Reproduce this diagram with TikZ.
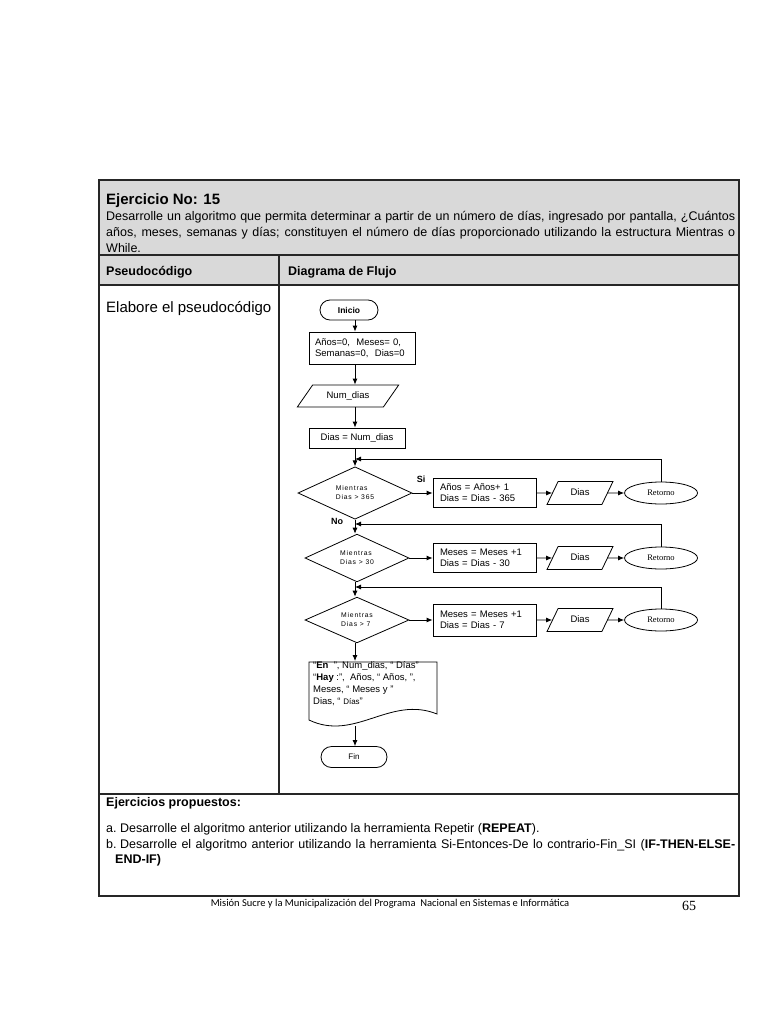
\documentclass[tikz,border=0pt]{standalone}
\usepackage{fontspec}
\setmainfont{Liberation Sans}
\newfontfamily\timesf{Liberation Serif}
\newfontfamily\calibf{Carlito}
\usetikzlibrary{shapes.geometric,shapes.misc,arrows.meta}
\begin{document}
\begin{tikzpicture}[x=1pt,y=-1pt,
 tbl/.style={draw=black!85,line width=1.1pt},
 fl/.style={draw=black,line width=0.8pt},
 arr/.style={fl,-{Latex[length=6pt,width=5pt]}},
 term/.style={fl,rounded rectangle,minimum height=20pt,inner sep=1pt},
 procbox/.style={fl,rectangle,align=left,inner xsep=6pt,inner ysep=2pt,font=\fontsize{9.5}{11}\selectfont},
 iobox/.style={fl,trapezium,trapezium stretches=true,inner sep=1pt,font=\fontsize{9.5}{11}\selectfont},
 dec/.style={fl,diamond,inner sep=0pt,align=left,font={\fontsize{6.8}{9}\selectfont\addfontfeatures{LetterSpace=12}}},
 ret/.style={fl,ellipse,minimum width=73pt,minimum height=22pt,inner sep=0pt,font=\timesf\fontsize{8.5}{10}\selectfont},
 lbl/.style={font=\bfseries\fontsize{9}{10}\selectfont,inner sep=0pt},
 txt/.style={inner sep=0pt,anchor=base west},
 body/.style={txt,font=\fontsize{12.5}{15}\selectfont},
 bodyb/.style={txt,font=\bfseries\fontsize{12.5}{15}\selectfont}
]
\useasboundingbox[fill=white] (0,0) rectangle (768,1024);

% table
\fill[black!15] (99,180) rectangle (739,285);
\draw[tbl] (99,180) rectangle (739,896);
\draw[tbl] (99,255) -- (739,255);
\draw[tbl] (99,285) -- (739,285);
\draw[tbl] (279,255) -- (279,794);
\draw[tbl] (99,794) -- (739,794);

% header texts
\node[txt,font=\bfseries\fontsize{15}{17}\selectfont] (title) at (106,205) {Ejercicio No: 15};
\node[body] (desc1) at (106,220.5) {\makebox[629pt][s]{Desarrolle un algoritmo que permita determinar a partir de un número de días, ingresado por pantalla, ¿Cuántos}};
\node[body] (desc2) at (106,236.5) {\makebox[629pt][s]{años, meses, semanas y días; constituyen el número de días proporcionado utilizando la estructura Mientras o}};
\node[body] (desc3) at (106,252) {While.};
\node[bodyb] (hpseudo) at (106,275.5) {Pseudocódigo};
\node[bodyb] (hflujo) at (288,275.5) {Diagrama de Flujo};
\node[txt,font=\fontsize{15}{17}\selectfont] (elab) at (106,312) {Elabore el pseudocódigo};

% flowchart
\coordinate (sp) at (355,300);
\node[term,minimum width=60pt,font=\bfseries\fontsize{8.5}{10}\selectfont] (ini) at (349,310) {Inicio};
\node[procbox,text width=94pt,minimum height=32pt] (init) at (362,348) {Años=0,\ \ Meses=~0,\\Semanas=0,\ \ Dias=0};
\node[iobox,trapezium left angle=48,trapezium right angle=132,minimum width=102pt,minimum height=22pt] (in1) at (348,396) {Num\_dias};
\node[procbox,minimum width=96pt,minimum height=20pt] (asg) at (357,438) {Dias = Num\_dias};

\node[dec,minimum width=114pt,minimum height=44pt] (d1) at (355,493) {Mientras\\Dias > 365};
\node[dec,minimum width=104pt,minimum height=42pt] (d2) at (357,558) {Mientras\\Dias > 30};
\node[dec,minimum width=104pt,minimum height=43pt] (d3) at (357,620) {Mientras\\Dias > 7};

\node[procbox,text width=89pt,inner xsep=7pt,minimum height=29pt] (b1) at (484.5,493) {Años = Años+ 1\\Dias = Dias - 365};
\node[procbox,text width=89pt,inner xsep=7pt,minimum height=29pt] (b2) at (484.5,558) {Meses = Meses +1\\Dias = Dias - 30};
\node[procbox,text width=89pt,inner xsep=7pt,minimum height=32pt] (b3) at (484.5,620) {Meses = Meses +1\\Dias = Dias - 7};

\node[iobox,trapezium left angle=65,trapezium right angle=115,minimum width=66pt,minimum height=23pt] (o1) at (580,493) {\raisebox{2.5pt}{Dias}\hspace{16pt}};
\node[iobox,trapezium left angle=65,trapezium right angle=115,minimum width=66pt,minimum height=23pt] (o2) at (580,558) {\raisebox{2.5pt}{Dias}\hspace{16pt}};
\node[iobox,trapezium left angle=65,trapezium right angle=115,minimum width=66pt,minimum height=23pt] (o3) at (580,620) {\raisebox{2.5pt}{Dias}\hspace{16pt}};

\node[ret] (r1) at (661,493) {Retorno};
\node[ret] (r2) at (661,558) {Retorno};
\node[ret] (r3) at (661,620) {Retorno};

\node[lbl] (si) at (421,479) {Si};
\node[lbl] (no) at (337,521) {No};

% document shape
\node[anchor=north west,inner sep=0pt,align=left,font=\fontsize{9.5}{12}\selectfont] (doc) at (313,661)
 {“\textbf{En}\ \ ”, Num\_dias, “ Días”\\“\textbf{Hay} :”,\ \ Años, “ Años, ”,\\Meses, “ Meses y ”\\Dias, “ {\fontsize{8}{9}\selectfont Días}”};
\draw[fl] (309,662) -- (437,662) -- (437,714) .. controls (390,695) and (355,742) .. (309,720) -- cycle;
\coordinate (docb) at (355,726);
\node[term,minimum width=68pt,minimum height=21pt,font=\fontsize{8}{9}\selectfont] (fin) at (354,757) {Fin};

% connectors
\draw[arr] (ini.south -| sp) -- (init.north -| sp);
\draw[arr] (init.south -| sp) -- (in1.north -| sp);
\draw[arr] (in1.south -| sp) -- (asg.north -| sp);
\draw[arr] (asg.south -| sp) -- (d1.north);
\draw[arr] (d1.south) -- (d2.north -| sp);
\draw[arr] (d2.south -| sp) -- (d3.north -| sp);
\draw[arr] (d3.south -| sp) -- (doc.north -| sp);
\draw[arr] (docb) -- (fin.north -| sp);

\draw[arr] (d1) -- (b1);
\draw[arr] (b1) -- (o1);
\draw[arr] (o1) -- (r1);
\draw[arr] (d2) -- (b2);
\draw[arr] (b2) -- (o2);
\draw[arr] (o2) -- (r2);
\draw[arr] (d3) -- (b3);
\draw[arr] (b3) -- (o3);
\draw[arr] (o3) -- (r3);

\coordinate (j1) at (355,459);
\coordinate (j2) at (355,524);
\coordinate (j3) at (355,587);
\draw[arr] (r1.north) |- (j1);
\draw[arr] (r2.north) |- (j2);
\draw[arr] (r3.north) |- (j3);

% bottom section
\node[bodyb] (prop) at (106,806.5) {Ejercicios propuestos:};
\node[body] (pa) at (106,832.5) {a.\hspace{3.5pt}Desarrolle el algoritmo anterior utilizando la herramienta Repetir (\textbf{REPEAT}).};
\node[body] (pb) at (106,848) {\makebox[629pt][s]{b.\hspace{3.5pt}Desarrolle el algoritmo anterior utilizando la herramienta Si-Entonces-De lo contrario-Fin\_SI (\textbf{IF-THEN-ELSE-}}};
\node[bodyb] (pc) at (115,863.5) {END-IF)};

% footer
\node[inner sep=0pt,anchor=base,font=\calibf\fontsize{10.5}{12}\selectfont] (foot) at (390,906.5) {Misión Sucre y la Municipalización del Programa\ \ Nacional en Sistemas e Informática};
\node[inner sep=0pt,anchor=base,font=\timesf\fontsize{14}{16}\selectfont] (page) at (689,910) {65};
\end{tikzpicture}
\end{document}
